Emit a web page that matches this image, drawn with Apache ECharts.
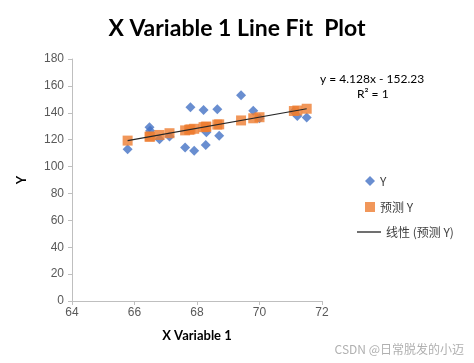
<!DOCTYPE html>
<html>
<head>
<meta charset="utf-8">
<script src="https://cdn.jsdelivr.net/npm/echarts@6/dist/echarts.min.js"></script>
<style>
html,body{margin:0;padding:0;background:#fff;}
#c{width:474px;height:363px;}
</style>
</head>
<body>
<div id="c"></div>
<script>
// Data
var xValues = [65.78, 66.48, 66.50, 66.80, 67.12, 67.62, 67.75, 67.79, 67.91, 68.21, 68.28, 68.30, 68.65, 68.71, 69.41, 69.80, 70.00, 71.10, 71.21, 71.51];
var yObserved = [112.9, 129.2, 126.7, 120.3, 122.3, 114.1, 127.5, 144.1, 111.8, 142.1, 116.1, 125.5, 142.6, 123.0, 153.0, 141.6, 136.0, 141.0, 137.6, 136.4];
var yPredicted = [119.3, 122.2, 122.3, 123.5, 124.8, 126.9, 127.4, 127.6, 128.1, 129.3, 129.6, 129.7, 131.2, 131.4, 134.3, 135.9, 136.7, 141.3, 141.7, 143.0];
var xTicks = [64, 66, 68, 70, 72];
var yTicks = [0, 20, 40, 60, 80, 100, 120, 140, 160, 180];
var seriesNames = ['Y', '预测 Y', '线性 (预测 Y)'];
var titleText = 'X Variable 1 Line Fit  Plot';
var equationText = 'y = 4.128x - 152.23';
var r2Text = 'R² = 1';
var xName = 'X Variable 1';
var yName = 'Y';
var watermark = 'CSDN @日常脱发的小迈';

var obsData = xValues.map(function(x, i){ return [x, yObserved[i]]; });
var predData = xValues.map(function(x, i){ return [x, yPredicted[i]]; });
var last = xValues.length - 1;
var trendData = [[xValues[0], yPredicted[0]], [xValues[last], yPredicted[last]]];

var chart = echarts.init(document.getElementById('c'));
var labelColor = '#595959';
var axisColor = '#BFBFBF';
var legendText = {fontFamily: 'Noto Sans CJK SC', fontSize: 12, color: '#404040'};
chart.setOption({
  animation: false,
  backgroundColor: '#fff',
  title: {
    text: titleText, left: 'center', top: 12,
    textStyle: {fontFamily: 'Lato', fontWeight: 'bold', fontSize: 23, color: '#000'}
  },
  grid: {left: 72, right: 152, top: 59, bottom: 62},
  xAxis: {
    type: 'value', min: xTicks[0], max: xTicks[xTicks.length-1], interval: 2,
    name: xName, nameLocation: 'middle', nameGap: 28,
    nameTextStyle: {fontFamily: 'Lato', fontWeight: 'bold', fontSize: 13, color: '#000'},
    axisLine: {show: true, onZero: false, lineStyle: {color: axisColor}},
    axisTick: {show: true, length: 4, lineStyle: {color: axisColor}},
    axisLabel: {fontFamily: 'Liberation Sans', fontSize: 12, color: labelColor, margin: 6},
    splitLine: {show: false}
  },
  yAxis: {
    type: 'value', min: yTicks[0], max: yTicks[yTicks.length-1], interval: 20,
    name: yName, nameLocation: 'middle', nameGap: 44, nameRotate: 90,
    nameTextStyle: {fontFamily: 'Lato', fontWeight: 'bold', fontSize: 13, color: '#000'},
    axisLine: {show: true, lineStyle: {color: axisColor}},
    axisTick: {show: true, length: 4, lineStyle: {color: axisColor}},
    axisLabel: {fontFamily: 'Liberation Sans', fontSize: 12, color: labelColor, margin: 8},
    splitLine: {show: false}
  },
  legend: [
    {left: 360, top: 170, itemWidth: 10, itemHeight: 10, itemGap: 8, textStyle: legendText,
     data: [{name: seriesNames[0], icon: 'diamond'}]},
    {left: 360, top: 196, itemWidth: 10, itemHeight: 10, itemGap: 8, textStyle: legendText,
     data: [{name: seriesNames[1], icon: 'rect'}]},
    {left: 352, top: 221, itemWidth: 24, itemHeight: 1.5, itemGap: 6, textStyle: legendText,
     data: [{name: seriesNames[2], icon: 'rect'}]}
  ],
  series: [
    {
      name: seriesNames[0], type: 'scatter', symbol: 'diamond', symbolSize: 10,
      itemStyle: {color: '#4472C4'}, data: obsData, z: 2
    },
    {
      name: seriesNames[1], type: 'scatter', symbol: 'rect', symbolSize: 10,
      itemStyle: {color: '#ED7D31'}, data: predData, z: 3
    },
    {
      name: seriesNames[2], type: 'line', symbol: 'none', showSymbol: false,
      lineStyle: {color: '#262626', width: 1.2}, itemStyle: {color: '#404040'},
      data: trendData, z: 4
    }
  ],
  graphic: [
    {type: 'text', left: 320, top: 73, style: {text: equationText, fontFamily: 'Lato', fontSize: 12, fill: '#000'}},
    {type: 'text', left: 357, top: 88, style: {text: r2Text, fontFamily: 'Lato', fontSize: 12, fill: '#000'}},
    {type: 'text', right: 10, top: 343, style: {text: watermark, fontFamily: 'Noto Sans CJK SC', fontSize: 12, fill: '#b0b0b0'}}
  ]
});
</script>
</body>
</html>
